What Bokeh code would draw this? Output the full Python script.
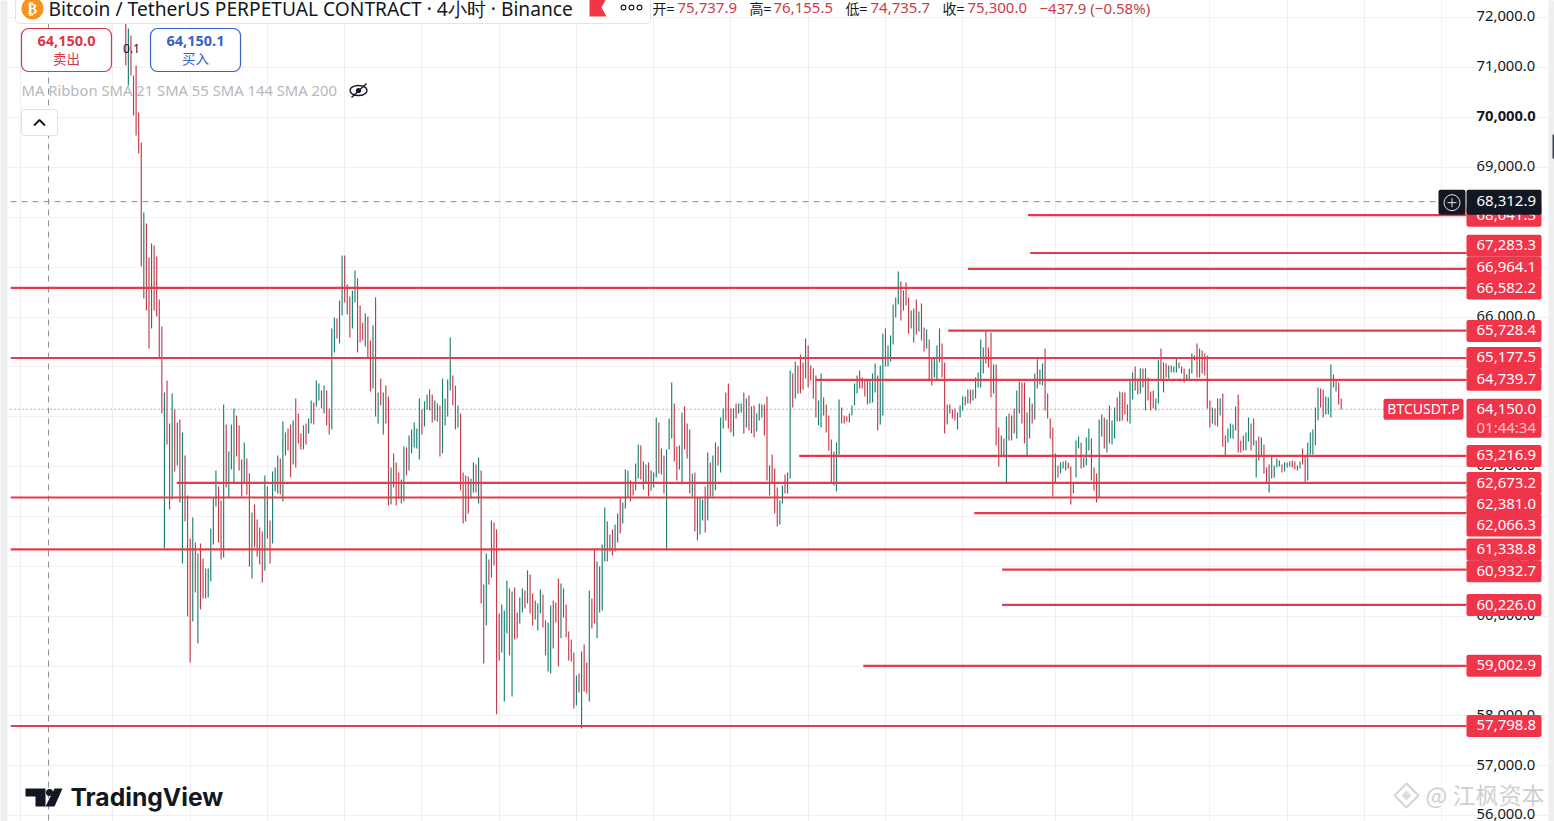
from bokeh.plotting import figure
from bokeh.models import ColumnDataSource, Range1d, LinearAxis, FixedTicker, Grid, NumeralTickFormatter
from bokeh.core.properties import value
from bokeh.embed import file_html
from bokeh.resources import INLINE

highs = [
71906,71786,71645,70843,71044,70101,69500,68096,67876,67194,
67475,67435,67214,66352,65810,64487,64728,63866,64467,64147,
63886,63946,63686,63224,62422,61560,61981,61480,61259,61460,
61159,60959,60959,61761,62382,62924,62603,62322,64247,63846,
63304,63846,64166,64026,63826,63144,63485,63164,62864,62081,
62242,61941,61781,61701,62824,62603,61921,62904,62984,63224,
63164,63906,63686,63766,63846,63926,64367,64066,63666,63826,
63866,63966,64327,64287,64728,64668,64527,64628,64527,64166,
65770,65991,65971,66332,67234,67234,66653,66412,66532,66934,
66773,66232,65891,66071,66011,65530,65830,66392,64487,64768,
64487,64628,64407,62984,63265,63084,62884,62743,63405,63385,
63626,63746,63886,63766,64367,64147,64307,64447,64548,64447,
64327,64267,64227,64768,64367,64748,65590,64828,64628,64227,
64066,62884,62824,62804,62764,63084,63044,63184,62924,60638,
61259,61139,61921,61881,61740,60056,60237,60116,60718,60558,
60498,60578,60076,60377,60558,60518,60919,60838,60457,60317,
60257,60538,60437,59916,59876,60217,60317,60277,60758,60658,
60558,60237,59696,59535,59275,58813,58853,59295,59435,59074,
60518,60357,61339,61099,60999,61440,62182,61901,61640,61741,
61841,62061,62362,62282,62944,62924,62723,62683,63064,63445,
63425,63104,63044,63084,62924,62884,63986,63886,63365,63224,
63345,63966,64688,64267,63405,63425,64086,64207,63866,63746,
62864,62884,62382,62382,62342,62603,63285,63084,63224,63485,
63405,63986,64166,64487,64668,64166,64166,64267,64267,64267,
64487,64367,64427,64207,64227,64066,64267,64247,64247,64407,
63024,63244,62964,62583,62322,62623,62844,62884,64929,64868,
65109,65029,65250,65089,65570,65430,65029,64969,64828,64327,
64868,64387,64247,64026,63545,63304,63485,64347,64187,64026,
64006,64066,64227,64668,64828,64929,64788,64728,64728,64748,
64868,65069,64828,65029,65670,65770,65430,65630,66252,66392,
66913,66713,66532,66693,66392,66131,66171,66352,66111,66272,
65790,65750,65550,65169,65169,65430,65770,65470,65089,64247,
64247,64147,64166,64086,64227,64407,64407,64548,64548,64548,
64788,64889,65550,65390,65710,65390,65690,65049,65049,63786,
63626,63565,64006,64066,64026,64166,64527,64708,64688,64688,
64086,64387,64267,64868,65169,64949,65069,65369,64467,63966,
63786,63265,63024,63084,63104,63124,63084,63004,62663,63525,
63605,63485,63184,63585,63766,63565,62984,62864,63946,64046,
63986,63946,64227,63926,64187,64387,64508,64487,64487,64247,
64728,64889,65009,64768,64969,64969,64969,64788,64508,64527,
64367,65149,65369,65089,65069,65029,65029,65009,65169,65089,
65009,64969,64848,64969,65270,65230,65470,65369,65329,65270,
65230,64327,64187,64166,64367,64367,64467,63626,63766,63866,
63846,64207,64447,63525,63626,63686,63986,63866,63966,63525,
63605,63585,63445,62984,63044,63204,63024,63164,63124,63044,
63084,63084,63104,63124,63104,63024,63104,63365,63224,63485,
63686,63746,64187,64588,64568,64548,64407,64387,65049,64848,
64728,64688,64367]

lows = [
71044,70643,70843,70041,69640,69279,67014,66372,66131,65369,
65770,66131,66011,65169,64066,61359,63445,62142,62342,62904,
63024,62282,61059,61901,59996,59074,59896,60477,59455,60137,
60357,60357,60377,60698,61440,62202,61480,61139,61179,62583,
62382,62944,62663,63204,62924,62402,62663,62442,60999,60758,
61380,61199,61039,60678,60919,61560,61059,61460,62503,62462,
62442,62302,63224,63324,62784,63044,62984,63465,63345,63345,
63445,63666,63866,63846,64207,64327,64166,64066,63826,63646,
63746,65289,65570,65470,66031,66292,66051,65590,65770,66292,
65289,65490,65530,65410,65169,64508,64568,64006,63866,64227,
63646,63866,62222,62242,62583,62222,62362,62262,62302,62824,
62924,63265,63385,63365,63144,63646,63806,64147,64126,63886,
63926,63906,63204,63265,63826,64006,64527,64227,63746,63786,
62523,61861,61901,62061,62362,62483,62483,62262,60257,59054,
59816,60638,60778,61019,58032,59114,59275,58292,59656,59215,
58392,59535,59556,59856,60076,60156,60257,60056,59816,59936,
59716,60056,59776,59215,58893,58853,59355,59876,58993,59556,
59976,59576,59114,59094,58152,58212,58472,57751,58492,58452,
58292,59756,59856,59556,60076,60116,61099,61099,61300,61219,
61300,61480,61660,61861,62162,62382,62302,62422,62523,62764,
62743,62543,62663,62402,62523,62583,62784,62864,62844,62462,
61319,63345,63565,63104,62723,62944,62643,63345,63164,62462,
62402,61701,61520,61640,61921,61681,61921,62402,62402,62523,
63024,62884,63766,63926,63766,63686,63605,63966,64066,64086,
63666,63786,63726,63666,63585,63706,63926,63986,63626,62723,
62422,62683,62061,61801,61841,62262,62462,62462,62764,64187,
64367,64467,64467,64548,64768,64588,64728,64367,63986,63826,
63786,64026,63686,63324,62663,62623,62503,63244,63866,63866,
63906,63886,64026,64227,64467,64568,64568,64407,64247,64267,
64287,64487,63726,63846,64026,65009,65009,65109,65450,65991,
66252,65931,66131,66232,65670,65770,65490,65650,65710,65530,
65309,65369,64708,64628,64788,64728,65089,64788,63666,63846,
64066,63966,63926,63746,63986,64126,64227,64267,64267,64327,
64367,64588,64588,64868,65069,64989,64387,64467,63425,63004,
63224,63224,62663,63525,63525,63666,63565,64066,63866,63465,
63224,63565,63866,63946,64568,64648,64628,64126,63966,63565,
62402,62683,62784,62864,62964,62924,62964,62242,62462,62784,
63365,62964,62984,63024,63324,62723,62523,62282,62382,63605,
63365,63285,63465,63445,63565,63906,63906,63926,64046,63906,
63866,64347,64527,64447,64467,64588,64126,64327,64126,64166,
64126,64267,64728,64487,64788,64768,64889,64889,64889,64969,
64868,64688,64728,64748,64868,65129,64788,64788,64868,64828,
64166,63786,63866,63826,63806,64026,63405,63224,63485,63565,
63565,63726,63285,63285,63324,63324,63505,63324,63425,62784,
63124,63224,62864,62663,62483,62764,62784,62984,63004,62884,
62904,62984,63004,62984,62944,62924,62964,63044,62663,62723,
63244,63244,63425,63926,64187,63986,64046,64046,63986,64588,
64508,64247,64147]

# one flag per bar, 1 = closed up (teal), 0 = closed down (red)
direction = "".join([
"0100000100","1000010010","1010001010","0011110010","1110001001",
"0000100111","0110010001","0110110100","1101100011","0001001010",
"1001000110","1111101100","1001111001","0000110100","1010001110",
"1001101001","1100110001","0000010100","1001111010","1101110011",
"0010111000","1110011000","1001101011","0110001011","0101011100",
"1000110110","1000100001","1100001100","0111100001","1101101111",
"1010011010","0100111001","0001110101","1111000100","1010101000",
"1101011000","0101110011","1011100011","0101101000","1100101000",
"1101010110","0011100100","0010010011","1100111001","0100101110",
"1110001001","1111001110","100"])

ray_prices = [68041.3,67283.3,66964.1,66582.2,65728.4,65177.5,64739.7,63216.9,
              62673.2,62381.0,62066.3,61338.8,60932.7,60226.0,59002.9,57798.8]
ray_start_bars = [350.4,351.2,327.1,-44.7,319.4,-44.7,267.8,261.5,19.8,-44.7,329.5,-44.7,340.3,340.3,286.4,-44.7]
# price at which each tag is stacked on the scale (tags push each other apart)
tag_prices = [68031,67430,66990,66570,65720,65180,64740,63215,62670,62240,61820,61340,60900,60225,59005,57800]
tick_prices = [p for p in range(56000, 73000, 1000) if p != 70000]
bold_ticks = [70000]
grid_bars = [-41,-5,25,55,85,115,145,175,205,235,265,295,325,361,391,421,451,481,511]
last_price = 64150.0
cross_price = 68312.9
cross_bar = -30

# scale: pixel geometry of the target frame
BAR0, BARW = 125.3, 2.575
REFP, REFY, K = 57798.8, 725.5, 0.04987
W, H = 1554, 821
def X(px): return (px - BAR0) / BARW
def Y(py): return REFP + (REFY - py) / K
def YP(p): return REFY - (p - REFP) * K

p = figure(width=W, height=H, x_range=Range1d(X(0), X(W)), y_range=Range1d(Y(H), Y(0)),
           x_axis_location=None, y_axis_location=None, toolbar_location=None,
           output_backend="svg", min_border=0, outline_line_color=None,
           tools="", background_fill_color="#ffffff", border_fill_color="#ffffff")
p.grid.visible = False
GRIDC = "#f0f0f2"
p.add_layout(Grid(dimension=0, ticker=FixedTicker(ticks=grid_bars), grid_line_color=GRIDC, grid_line_width=1))
p.add_layout(Grid(dimension=1, ticker=FixedTicker(ticks=tick_prices + bold_ticks), grid_line_color=GRIDC, grid_line_width=1))

FONT = "Noto Sans"
CJK = "Noto Sans CJK SC"
p.extra_y_ranges = {"labels": Range1d(Y(H + 1.3), Y(1.3))}
def add_axis(ticks, style):
    ax = LinearAxis(fixed_location=X(1464), y_range_name="labels", ticker=FixedTicker(ticks=ticks),
                    formatter=NumeralTickFormatter(format="0,0.0"),
                    axis_line_color=None, major_tick_line_color=None, minor_tick_line_color=None,
                    major_label_standoff=6, major_label_text_font=FONT,
                    major_label_text_font_size="14.8px", major_label_text_color="#131722",
                    major_label_text_font_style=style)
    p.add_layout(ax, "right")
add_axis(tick_prices, "normal")
add_axis(bold_ticks, "bold")

# bars
idx = list(range(len(highs)))
colors = ["#1a8072" if c == "1" else "#c23a4a" for c in direction]
src = ColumnDataSource(dict(x=idx, hi=highs, lo=lows, c=colors))
p.segment(x0="x", y0="lo", x1="x", y1="hi", line_color="c", line_width=1.15, source=src)

# crosshair and last price
p.segment(x0=[cross_bar], y0=[Y(0)], x1=[cross_bar], y1=[Y(H)], line_color="#8a8e99", line_width=1, line_dash="6 5")
p.segment(x0=[X(10)], y0=[cross_price], x1=[X(1438)], y1=[cross_price], line_color="#8a8e99", line_width=1, line_dash="6 5")
p.segment(x0=[X(10)], y0=[last_price], x1=[X(1383)], y1=[last_price], line_color="#c2505f", line_width=1, line_dash="1 3")

# horizontal rays
RED = "#e53a4a"
p.segment(x0=ray_start_bars, y0=ray_prices, x1=[X(1466)] * len(ray_prices), y1=ray_prices,
          line_color=RED, line_width=2.2)

def box(x0, x1, y0, y1, fill, line=None, radius=0, lw=1, alpha=1.0):
    kw = {}
    if radius:
        kw["border_radius"] = radius
    p.quad(left=[X(x0)], right=[X(x1)], top=[Y(y0)], bottom=[Y(y1)], fill_color=fill, fill_alpha=alpha,
           line_color=line, line_width=lw, level="overlay", **kw)

def T(x, y, s, color="#131722", size=15, font=FONT, style="normal", align="left", alpha=1.0):
    p.text(x=[X(x)], y=[Y(y)], text=[s], text_color=color, text_font=value(font), text_font_size=f"{size}px",
           text_font_style=style, text_align=align, text_baseline="middle", text_alpha=alpha, level="overlay")

# price tags
TAG = "#f0344a"
for price, tag_price in sorted(zip(ray_prices, tag_prices)):
    y = YP(tag_price)
    box(1466, 1541, y - 11, y + 11, TAG, radius=2)
    T(1476, y - 0.5, f"{price:,.1f}", "#ffffff", 15)
box(1466, 1541, YP(last_price) - 10.5, YP(last_price) + 28.5, TAG, radius=2)
T(1476, YP(last_price) - 0.5, f"{last_price:,.1f}", "#ffffff", 15)
T(1476, YP(last_price) + 17.5, "01:44:34", "#fbc4cb", 15)
box(1383, 1463, YP(last_price) - 10.5, YP(last_price) + 10.5, TAG, radius=2)
T(1423, YP(last_price) - 0.5, "BTCUSDT.P", "#ffffff", 14, align="center")

# crosshair tag
DARK = "#131722"
box(1466, 1541, YP(cross_price) - 12, YP(cross_price) + 13, DARK, radius=2)
T(1476, YP(cross_price) - 0.5, f"{cross_price:,.1f}", "#ffffff", 15)
box(1438, 1465, YP(cross_price) - 12, YP(cross_price) + 13, DARK, radius=2)
cy = YP(cross_price) + 1
p.circle(x=[X(1451.5)], y=[Y(cy)], radius=8 * 1 / BARW, fill_color=None, line_color="#e6e6e6", line_width=1, level="overlay")
p.segment(x0=[X(1447), X(1451.5)], y0=[Y(cy), Y(cy - 4.5)], x1=[X(1456), X(1451.5)], y1=[Y(cy), Y(cy + 4.5)],
          line_color="#e6e6e6", line_width=1, level="overlay")

# side strips
box(0, 7, 0, H, "#eeeeee")
box(1548, W, 0, H, "#efefef")
box(1552, W, 134, 158, "#3a3f4a")

# header
box(15, 650, -3, 23, "#ffffff", line="#e0e3eb", radius=4)
p.circle(x=[X(32)], y=[Y(8)], radius=11 / BARW, fill_color="#f7931a", line_color=None, level="overlay")
T(32, 8, "₿", "#ffffff", 14, font="DejaVu Sans", style="bold", align="center")
T(48, 7.5, "Bitcoin / TetherUS PERPETUAL CONTRACT · 4小时 · Binance", "#131722", 19.2)
p.patch(x=[X(v) for v in (589, 606, 601, 606, 589)], y=[Y(v) for v in (-2, -2, 7, 16, 16)],
        fill_color="#f23645", line_color=None, level="overlay")
for cx in (623, 631, 639):
    p.circle(x=[X(cx)], y=[Y(7)], radius=2.4 / BARW, fill_color="#ffffff", line_color="#131722", line_width=1.1, level="overlay")

VAL = "#cc3b4b"
for xl, lab, xv, val in [(652, "开=", 677, "75,737.9"), (749, "高=", 773, "76,155.5"),
                         (845, "低=", 870, "74,735.7"), (942, "收=", 967, "75,300.0")]:
    T(xl, 7.5, lab, "#131722", 14, font=CJK)
    T(xv, 7.5, val, VAL, 15)
T(1039, 7.5, "−437.9 (−0.58%)", VAL, 15)

# order buttons
SELL, BUY = "#d8384a", "#3862c8"
box(21, 111, 28, 71, "#ffffff", line=SELL, radius=7, lw=1.2)
T(66, 40.5, "64,150.0", SELL, 14.5, style="bold", align="center")
T(66, 57.5, "卖出", SELL, 13.5, font=CJK, align="center")
box(150, 240, 28, 71, "#ffffff", line=BUY, radius=7, lw=1.2)
T(195, 40.5, "64,150.1", BUY, 14.5, style="bold", align="center")
T(195, 57.5, "买入", BUY, 13.5, font=CJK, align="center")
T(131, 48, "0.1", "#131722", 12, align="center")

# indicator legend
T(21, 89.5, "MA Ribbon SMA 21 SMA 55 SMA 144 SMA 200", "#b6b8bd", 14.8)
p.ellipse(x=[X(358)], y=[Y(90)], width=17 / BARW, height=10 / K, fill_color=None, line_color="#131722",
          line_width=1.4, level="overlay")
p.circle(x=[X(358)], y=[Y(90)], radius=2.6 / BARW, fill_color="#131722", line_color=None, level="overlay")
p.segment(x0=[X(351)], y0=[Y(97)], x1=[X(366)], y1=[Y(83)], line_color="#131722", line_width=1.4, level="overlay")

box(21, 57, 109, 135, "#ffffff", line="#dfe1e6", radius=3)
p.line(x=[X(33.5), X(39), X(44.5)], y=[Y(125), Y(119.5), Y(125)], line_color="#131722", line_width=1.8, level="overlay")

# logo
p.patch(x=[X(v) for v in (25, 45, 45, 35, 35, 25)], y=[Y(v) for v in (788, 788, 806, 806, 796, 796)],
        fill_color="#131722", line_color=None, level="overlay")
p.circle(x=[X(49)], y=[Y(792)], radius=3.5 / BARW, fill_color="#131722", line_color=None, level="overlay")
p.patch(x=[X(v) for v in (54, 62, 54, 45)], y=[Y(v) for v in (788, 788, 806, 806)],
        fill_color="#131722", line_color=None, level="overlay")
T(70, 796, "TradingView", "#131722", 24.7, font="Inter", style="bold")

# watermark
p.patch(x=[X(v) for v in (1406, 1418, 1406, 1394)], y=[Y(v) for v in (783, 795, 807, 795)],
        fill_color=None, line_color="#d4d4d4", line_width=2, level="overlay")
p.patch(x=[X(v) for v in (1406, 1411, 1406, 1401)], y=[Y(v) for v in (790, 795, 800, 795)],
        fill_color="#dcdcdc", line_color=None, level="overlay")
T(1425, 793, "@ 江枫资本", "#cfcfcf", 23, font=CJK)

open("out.html", "w").write(file_html(p, INLINE))
